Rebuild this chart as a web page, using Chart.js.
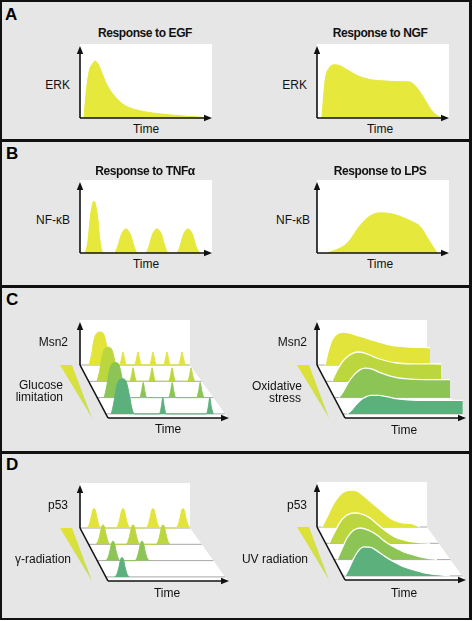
<!DOCTYPE html>
<html><head><meta charset="utf-8">
<script src="https://cdn.jsdelivr.net/npm/chart.js@4.4.0/dist/chart.umd.min.js"></script>
<style>
body{margin:0;width:474px;height:621px;background:#fff;position:relative;overflow:hidden;font-family:"Liberation Sans",Arial,sans-serif;}
.frame{position:absolute;left:0;top:0;width:472px;height:620px;background:#111;}
.panel{position:absolute;left:2px;width:467px;background:#e6e6e6;}
canvas{position:absolute;}
.t{position:absolute;font-size:12px;color:#111;white-space:nowrap;line-height:12px;}
.b{font-weight:bold;letter-spacing:-0.4px;}
.L{position:absolute;font-weight:bold;font-size:17px;line-height:17px;color:#000;}
</style></head><body>
<div class="frame"></div>
<div class="panel" style="top:2px;height:137px"></div>
<div class="panel" style="top:142px;height:143px"></div>
<div class="panel" style="top:288px;height:163px"></div>
<div class="panel" style="top:454px;height:164px"></div>
<script>
// ---- A: ERK responses (time 0-100, level 0-100) ----
const egfTime=[3,4.5,6.8,9.8,11.4,14,17,21,27,34,45,61,80,92,98];
const egfErk=[0,31,62,74,77,72,59,43,28,17,10,5.5,2.5,1,0];
const ngfTime=[3.8,5,6.5,9,13,17,23,31,40,52,63,69,73,77,81,85,89,93,95];
const ngfErk=[0,30,55,67,72,71,65,57,52,50,49,49,46,38,27,15,6,1.5,0];
// ---- B: NF-kB ----
const tnfTime=[4,6,8,10.6,13.2,15.2,17.5,25.8,28.5,31.5,34.8,38,41,43.5,49.5,52.2,55,58.3,61.6,64.4,67,73,75.7,78.5,81.8,85.1,87.9,90.6];
const tnfNfkb=[0,16,52,71,52,16,0,0,9,26,33,26,9,0,0,9,26,33,26,9,0,0,9,26,33,26,9,0];
const lpsTime=[7.6,14,22.7,32.8,40.4,48,58,66,72,78.3,84.6,91];
const lpsNfkb=[0,4,13,38,51,55,53,48,43,36,18,0];
// ---- C: Msn2, four stress levels (layer 0 = weakest) ----
const glucTime=[
 [9,11.5,14,17,20.5,24,27,29.5,32, 39.5,41.5,43,44.5,46.5, 54.5,56.5,58,59.5,61.5, 69.5,71.5,73,74.5,76.5, 83.5,85.5,87,88.5,90.5, 98.5,100.5,102,103.5,105.5],
 [8.5,11,13.5,16.5,20,23.5,26.5,29,31.5, 41,43,44.5,46,48, 60,62,63.5,65,67, 80,82,83.5,85,87, 99,101,102.5,104,106],
 [7,9.5,12,15,18.5,22,25,27.5,30, 42.5,44.5,46,47.5,49.5, 71.5,73.5,75,76.5,78.5, 99.5,101.5,103,104.5,106.5],
 [5.5,8,10.5,13.5,17,20.5,23.5,26,28.5, 53.5,55.5,57,58.5,60.5, 100.5,102.5,104,105.5,107.5]];
const glucMsn2=[
 [0,10,25,32,33,30,18,6,0, 0,6,13,6,0, 0,6,13,6,0, 0,6,13,6,0, 0,6,13,6,0, 0,6,13,6,0],
 [0,10,25,33,34,31,19,6,0, 0,6,13.5,6,0, 0,6,13.5,6,0, 0,6,13.5,6,0, 0,6,13.5,6,0],
 [0,11,26,34,35,32,19,6,0, 0,7,15,7,0, 0,7,15,7,0, 0,7,15,7,0],
 [0,11,26,34,35,32,19,6,0, 0,7,16,7,0, 0,7,16,7,0]];
const oxTime=[
 [8,11,15,20,26,33,42,53,70,87,113],
 [6.4,10,15,20,26,32,40,51,71,90,115.4],
 [4.8,9,14,20,26,31,38,46,58,70,90,115.8],
 [4.2,9,13,18,23,28,36,45,55,65,90,120]];
const oxMsn2=[
 [0,13,25,31,33,32,29,25.7,20.7,18.3,17.5],
 [0,8,17,23,27.5,29.3,28,23.3,18.3,17.5,17.3],
 [0,6,15,23,28,29.5,28.5,25,21,19,18,18],
 [0,4,9,14,17,18.5,18.5,17,15,14,13.5,13.5]];
// ---- D: p53 ----
const gammaTime=[
 [7,9,11,12.5,14,15.5,17,19,21, 36,38,40,41.5,43,44.5,46,48,50, 66,68,70,71.5,73,74.5,76,78,80, 96,98,100,101.5,103,104.5,106,108,110],
 [7.4,9.4,11.4,12.9,14.4,15.9,17.4,19.4,21.4, 37.4,39.4,41.4,42.9,44.4,45.9,47.4,49.4,51.4, 67.4,69.4,71.4,72.9,74.4,75.9,77.4,79.4,81.4],
 [8.8,10.8,12.8,14.3,15.8,17.3,18.8,20.8,22.8, 37.8,39.8,41.8,43.3,44.8,46.3,47.8,49.8,51.8],
 [9.2,11.2,13.2,14.7,16.2,17.7,19.2,21.2,23.2]];
const gammaP53=[
 [0,3,10,17,19.5,17,10,3,0, 0,3,10,17,19.5,17,10,3,0, 0,3,10,17,19.5,17,10,3,0, 0,3,10,17,19.5,17,10,3,0],
 [0,3,10,17,19.5,17,10,3,0, 0,3,10,17,19.5,17,10,3,0, 0,3,10,17,19.5,17,10,3,0],
 [0,3,10,17,19.5,17,10,3,0, 0,3,10,17,19.5,17,10,3,0],
 [0,3,10,17,19.5,17,10,3,0]];
const uvTime=[
 [5,10,17,25,33,40,47,54,60,67,73,80,87,95,100,103],
 [3.4,8,14.4,21,29.4,37,44.4,53,61.4,70,78.4,90,104.4],
 [2.8,7,12.8,19,25.8,34,42.8,51,59.8,70,79.8,90,102.8],
 [2.2,6,11.2,16,21.2,28,34.2,42,51.2,60,71.2,85,107.2]];
const uvP53=[
 [0,10,24,34,37,36,31,25,20,14,9,5.5,4,3.5,1.5,0],
 [0,9,21,28,30.3,29,25.3,18,11.3,6,3.3,1.2,0],
 [0,9,21.6,29,31.6,29.5,24.6,18,12.6,7.5,4.6,2,0],
 [0,7,18,25.5,29,28.5,25,19.5,14,9.5,6,2.5,0]];

// ---- look ----
const yellow='#e6e83c';
const layerColors=['#e2e43c','#bcd63e','#8cc556','#5cb07c'];
const DX=8.6, DY=16.3;           // shift of each stress layer
const WALL_W=110, WALL_H=45, FRONT=-53, FLOOR_R=148, DIAG=28;

function pts(t,v,dx,dy){return t.map((x,i)=>({x:x+dx,y:v[i]+dy}));}
function makeCanvas(l,t,w,h){const c=document.createElement('canvas');c.width=w;c.height=h;c.style.left=l+'px';c.style.top=t+'px';document.body.appendChild(c);return c;}
function arrow(ctx,x1,y1,x2,y2){
  const a=Math.atan2(y2-y1,x2-x1);
  ctx.save();ctx.strokeStyle='#111';ctx.fillStyle='#111';ctx.lineWidth=1.6;
  ctx.beginPath();ctx.moveTo(x1,y1);ctx.lineTo(x2-5*Math.cos(a),y2-5*Math.sin(a));ctx.stroke();
  ctx.translate(x2,y2);ctx.rotate(a);
  ctx.beginPath();ctx.moveTo(0,0);ctx.lineTo(-8,-3.2);ctx.lineTo(-8,3.2);ctx.closePath();ctx.fill();
  ctx.restore();
}
const baseOpts=(xmin,xmax,ymin,ymax,pad)=>({responsive:false,animation:false,events:[],devicePixelRatio:1,
  layout:{padding:pad},plugins:{legend:{display:false},tooltip:{enabled:false}},
  scales:{x:{type:'linear',display:false,min:xmin,max:xmax},y:{display:false,min:ymin,max:ymax}}});

const plot2d={id:'plot2d',
  beforeDraw(c){const {ctx,chartArea:a}=c;ctx.save();ctx.fillStyle='#fff';ctx.fillRect(a.left,a.top,a.right-a.left,a.bottom-a.top);ctx.restore();},
  afterDatasetsDraw(c){const {ctx,chartArea:a}=c;arrow(ctx,a.left,a.bottom,a.left,a.top+2);arrow(ctx,a.left,a.bottom,a.right,a.bottom);}};

function chart2d(left,top,w,h,t,v){
  const cv=makeCanvas(left-4,top-4,w+8,h+8);
  new Chart(cv,{type:'line',data:{datasets:[{data:pts(t,v,0,0),fill:'origin',backgroundColor:yellow,borderColor:yellow,borderWidth:1,pointRadius:0,cubicInterpolationMode:'monotone'}]},
    options:baseOpts(0,100,0,100,4),plugins:[plot2d]});
}

const plot3d={id:'plot3d',
  beforeDraw(c){
    const ctx=c.ctx,X=v=>c.scales.x.getPixelForValue(v),Y=v=>c.scales.y.getPixelForValue(v);
    ctx.save();
    // stress wedge
    const g=ctx.createLinearGradient(0,Y(0),0,Y(FRONT));
    g.addColorStop(0,'#e0e232');g.addColorStop(1,'#c4dc5c');
    ctx.fillStyle=g;ctx.beginPath();ctx.moveTo(X(-20),Y(0));ctx.lineTo(X(-8),Y(0));ctx.lineTo(X(12),Y(FRONT));ctx.closePath();ctx.fill();
    // back wall + floor
    ctx.fillStyle='#fff';
    ctx.fillRect(X(0),Y(WALL_H),X(WALL_W)-X(0),Y(0)-Y(WALL_H));
    ctx.beginPath();ctx.moveTo(X(0),Y(0));ctx.lineTo(X(WALL_W),Y(0));ctx.lineTo(X(FLOOR_R),Y(FRONT));ctx.lineTo(X(DIAG),Y(FRONT));ctx.closePath();ctx.fill();
    // layer baselines
    ctx.strokeStyle='#a8a8a8';ctx.lineWidth=1;
    for(let i=0;i<4;i++){const y=-i*DY,f=y/FRONT;
      ctx.beginPath();ctx.moveTo(X(DIAG*f),Y(y));ctx.lineTo(X(WALL_W+(FLOOR_R-WALL_W)*f),Y(y));ctx.stroke();}
    ctx.restore();
  },
  afterDatasetsDraw(c){
    const ctx=c.ctx,X=v=>c.scales.x.getPixelForValue(v),Y=v=>c.scales.y.getPixelForValue(v);
    arrow(ctx,X(0),Y(0),X(0),Y(43));
    ctx.save();ctx.strokeStyle='#111';ctx.lineWidth=1.6;ctx.beginPath();ctx.moveTo(X(0),Y(0));ctx.lineTo(X(DIAG),Y(FRONT));ctx.stroke();ctx.restore();
    arrow(ctx,X(DIAG),Y(FRONT),X(FLOOR_R+1),Y(FRONT));
  }};

function chart3d(ox,oy,times,vals,outline){
  const cv=makeCanvas(ox-28,oy-49,185,110);
  const ds=times.map((t,i)=>({data:pts(t,vals[i],i*DX,-i*DY),fill:{value:-i*DY},
    backgroundColor:layerColors[i],borderColor:outline?'#fff':layerColors[i],borderWidth:outline?1.3:1,
    pointRadius:0,cubicInterpolationMode:'monotone',order:-i}));
  new Chart(cv,{type:'line',data:{datasets:ds},options:baseOpts(-28,157,-61,49,0),plugins:[plot3d]});
}

chart2d(80,44,132,74,egfTime,egfErk);
chart2d(317,44,132,74,ngfTime,ngfErk);
chart2d(80,180,132,73,tnfTime,tnfNfkb);
chart2d(317,180,132,73,lpsTime,lpsNfkb);
chart3d(80,365,glucTime,glucMsn2,false);
chart3d(317,365,oxTime,oxMsn2,true);
chart3d(80,528,gammaTime,gammaP53,false);
chart3d(317,527,uvTime,uvP53,true);

// ---- text ----
function txt(s,x,y,align,cls){
  const d=document.createElement('div');d.className='t'+(cls?' '+cls:'');d.textContent=s;
  d.style.left=x+'px';d.style.top=y+'px';
  d.style.transform='translate('+(align==='r'?'-100%':'-50%')+',-50%)';
  document.body.appendChild(d);
}
[['A',5,6],['B',6,145],['C',6,291],['D',6,456]].forEach(([s,x,y])=>{
  const d=document.createElement('div');d.className='L';d.textContent=s;d.style.left=x+'px';d.style.top=y+'px';document.body.appendChild(d);});
txt('Response to EGF',145,33,'c','b');
txt('Response to NGF',380,33,'c','b');
txt('ERK',70,85,'r');txt('ERK',307,85,'r');
txt('Time',146,129,'c');txt('Time',380,129,'c');
txt('Response to TNF\u03b1',145,171,'c','b');
txt('Response to LPS',380,171,'c','b');
txt('NF-\u03baB',70,220,'r');txt('NF-\u03baB',310,220,'r');
txt('Time',146,264,'c');txt('Time',380,264,'c');
txt('Msn2',68,342,'r');txt('Glucose',63,385,'r');txt('limitation',63,397,'r');
txt('Msn2',307,342,'r');txt('Oxidative',302,386,'r');txt('stress',301,398,'r');
txt('Time',168,429,'c');txt('Time',404,430,'c');
txt('p53',68,505,'r');txt('\u03b3-radiation',71,559,'r');
txt('p53',307,505,'r');txt('UV radiation',308,559,'r');
txt('Time',167,593,'c');txt('Time',404,593,'c');
</script>
</body></html>
